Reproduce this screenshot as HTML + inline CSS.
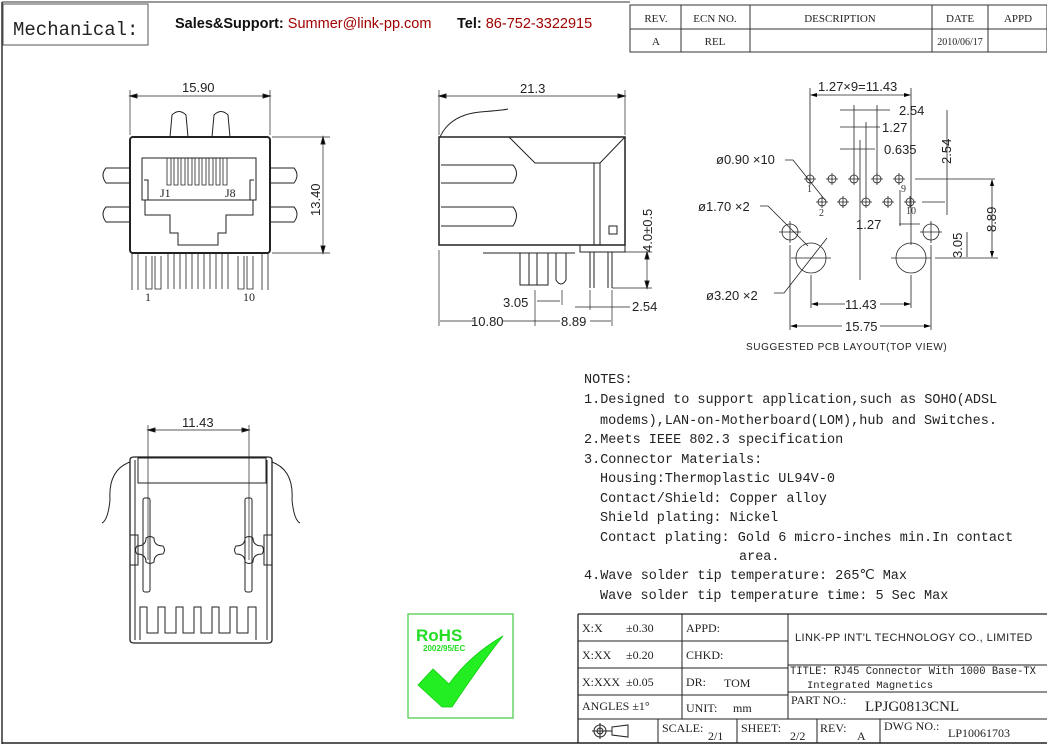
<!DOCTYPE html>
<html><head><meta charset="utf-8"><style>
html,body{margin:0;padding:0;background:#fff}
svg{display:block}
.m{font-family:"Liberation Mono",monospace}
.s{font-family:"Liberation Sans",sans-serif}
.sf{font-family:"Liberation Serif",serif}
</style></head><body>
<svg width="1047" height="746" viewBox="0 0 1047 746" xmlns="http://www.w3.org/2000/svg" fill="none" stroke="#000" stroke-width="1">
<line x1="2" y1="2" x2="630" y2="2" stroke="#333"/>
<line x1="2" y1="2" x2="2" y2="744" stroke="#333" stroke-width="1.5"/>
<line x1="2" y1="743" x2="1047" y2="743" stroke="#222" stroke-width="1.5"/>
<rect x="3" y="4" width="145" height="41" stroke="#555"/>
<text x="13" y="35" class="m" font-size="19" fill="#222" stroke="none">Mechanical:</text>
<text x="175" y="28" class="s" font-size="14.5" font-weight="bold" fill="#111" stroke="none">Sales&amp;Support: <tspan font-weight="normal" fill="#a00000">Summer@link-pp.com</tspan></text>
<text x="457" y="28" class="s" font-size="14.5" font-weight="bold" fill="#111" stroke="none">Tel: <tspan font-weight="normal" fill="#a00000">86-752-3322915</tspan></text>
<g stroke="#333">
<rect x="630" y="5" width="417" height="47"/>
<line x1="630" y1="29" x2="1047" y2="29"/>
<line x1="681" y1="5" x2="681" y2="52"/><line x1="750" y1="5" x2="750" y2="52"/>
<line x1="932" y1="5" x2="932" y2="52"/><line x1="988" y1="5" x2="988" y2="52"/>
</g>
<g class="sf" font-size="11" fill="#222" stroke="none" text-anchor="middle">
<text x="656" y="22">REV.</text><text x="715" y="22">ECN NO.</text><text x="840" y="22">DESCRIPTION</text><text x="960" y="22">DATE</text><text x="1018" y="22">APPD</text>
<text x="656" y="45">A</text><text x="715" y="45">REL</text><text x="960" y="45" font-size="10">2010/06/17</text>
</g>

<!-- FRONT VIEW -->
<g stroke="#222">
<line x1="130" y1="90" x2="130" y2="135" stroke-width="0.7"/><line x1="270" y1="90" x2="270" y2="135" stroke-width="0.7"/>
<line x1="131" y1="96" x2="269" y2="96" stroke-width="0.7"/>
<path d="M130 96 l7 -2 v4z M270 96 l-7 -2 v4z" fill="#000"/>
<line x1="272" y1="137" x2="330" y2="137" stroke-width="0.7"/><line x1="272" y1="253" x2="330" y2="253" stroke-width="0.7"/>
<line x1="323" y1="138" x2="323" y2="252" stroke-width="0.7"/>
<path d="M323 137 l-2 7 h4z M323 253 l-2 -7 h4z" fill="#000"/>
<rect x="130" y="137" width="140" height="116" rx="3" stroke-width="2"/>
<path d="M170 137 L172 115 Q179 108 186 115 L188 137 M212 137 L214 115 Q221 108 228 115 L230 137"/>
<path d="M130 168 L106 168 Q100 175 106 183 L130 183 M130 207 L106 207 Q100 214 106 222 L130 222"/>
<path d="M270 168 L294 168 Q300 175 294 183 L270 183 M270 207 L294 207 Q300 214 294 222 L270 222"/>
<path d="M142 200 V158 H256 V200 Z"/>
<path d="M145 200 V215 H170 V233 H178 V245 H218 V233 H226 V215 H253 V200"/>
<path d="M144 180 H148 V200 M254 180 H250 V200"/>
<g stroke-width="0.8">
<path d="M167 158 V185 H171 V158 M174 158 V185 H178 V158 M181 158 V185 H185 V158 M188 158 V185 H192 V158 M195 158 V185 H199 V158 M202 158 V185 H206 V158 M209 158 V185 H213 V158 M216 158 V185 H220 V158 M223 158 V185 H227 V158"/>
<path d="M132 253 V290 M138 253 V290 M268 253 V290 M262 253 V290 M146 256 V289 H152 V256 M155 256 V289 H161 V256 M238 256 V289 H244 V256 M247 256 V289 H253 V256 M168 253 V289 M174 253 V289 M180 253 V289 M186 253 V289 M192 253 V289 M198 253 V289 M204 253 V289 M210 253 V289 M216 253 V289 M222 253 V289 M228 253 V289"/>
</g>
</g>
<g class="s" font-size="13" fill="#222" stroke="none">
<text x="182" y="92">15.90</text>
<text transform="translate(320,216) rotate(-90)">13.40</text>
</g>
<g class="sf" font-size="12" fill="#222" stroke="none">
<text x="145" y="301">1</text><text x="243" y="301">10</text>
<text x="160" y="197">J1</text><text x="225" y="197">J8</text>
</g>

<!-- SIDE VIEW -->
<g stroke="#222">
<line x1="439" y1="90" x2="439" y2="135" stroke-width="0.7"/><line x1="625" y1="90" x2="625" y2="135" stroke-width="0.7"/>
<line x1="440" y1="96" x2="624" y2="96" stroke-width="0.7"/>
<path d="M439 96 l7 -2 v4z M625 96 l-7 -2 v4z" fill="#000"/>
<path d="M440 137 Q450 115 480 112 Q505 110 508 109"/>
<path d="M439 137 H625 V245 H439 Z" stroke-width="1.5"/>
<path d="M509 137 L535 163 H600 L625 137 M594 163 V245 M600 163 V245"/>
<path d="M441 165 H513 Q520 173 513 183 H441 M441 207 H513 Q520 215 513 226 H441"/>
<rect x="609" y="226" width="8" height="8"/>
<path d="M580 245 V252 H625 V245"/>
<path d="M590 252 V288 M594 252 V288 M608 252 V288 M612 252 V288"/>
<path d="M520 253 V285 H548 V253 M529 253 V285 M537 253 V285 M556 253 V280 Q561 288 566 280 V253 M483 253 H575"/>
<line x1="610" y1="252" x2="652" y2="252" stroke-width="0.7"/><line x1="612" y1="288" x2="652" y2="288" stroke-width="0.7"/>
<line x1="647" y1="253" x2="647" y2="287" stroke-width="0.7"/>
<path d="M647 252 l-2 7 h4z M647 288 l-2 -7 h4z" fill="#000"/>
<g stroke-width="0.7">
<line x1="535" y1="290" x2="535" y2="326"/><line x1="562" y1="290" x2="562" y2="305"/>
<line x1="537" y1="301" x2="560" y2="301"/>
<line x1="590" y1="290" x2="590" y2="310"/><line x1="612" y1="290" x2="612" y2="326"/>
<line x1="575" y1="307" x2="630" y2="307"/>
<line x1="439" y1="250" x2="439" y2="326"/>
<line x1="440" y1="321" x2="475" y2="321"/><line x1="502" y1="321" x2="560" y2="321"/><line x1="590" y1="321" x2="611" y2="321"/>
</g>
</g>
<g class="s" font-size="13" fill="#222" stroke="none">
<text x="520" y="93">21.3</text>
<text transform="translate(652,252) rotate(-90)">4.0±0.5</text>
<text x="503" y="307">3.05</text><text x="632" y="311">2.54</text>
<text x="471" y="326">10.80</text><text x="561" y="326">8.89</text>
</g>

<!-- PCB -->
<g stroke="#222" stroke-width="0.8">
<line x1="810" y1="88" x2="810" y2="175"/><line x1="911" y1="88" x2="911" y2="245"/>
<line x1="811" y1="95" x2="910" y2="95"/>
<line x1="840" y1="110" x2="890" y2="110"/><line x1="854" y1="105" x2="854" y2="175"/><line x1="877" y1="105" x2="877" y2="175"/>
<line x1="840" y1="127" x2="880" y2="127"/><line x1="866" y1="122" x2="866" y2="198"/>
<line x1="840" y1="149" x2="875" y2="149"/><line x1="860" y1="140" x2="860" y2="280"/>
<line x1="915" y1="179" x2="995" y2="179"/><line x1="922" y1="202" x2="945" y2="202"/>
<line x1="947" y1="110" x2="947" y2="215"/>
<line x1="992" y1="180" x2="992" y2="257"/>
<line x1="935" y1="258" x2="998" y2="258"/>
<line x1="967" y1="232" x2="967" y2="257"/>
<line x1="899" y1="224" x2="920" y2="224"/><line x1="900" y1="190" x2="900" y2="226"/>
<line x1="790" y1="245" x2="790" y2="330"/><line x1="931" y1="245" x2="931" y2="330"/>
<line x1="811" y1="275" x2="811" y2="308"/><line x1="911" y1="275" x2="911" y2="308"/>
<line x1="812" y1="304" x2="845" y2="304"/><line x1="880" y1="304" x2="910" y2="304"/>
<line x1="791" y1="326" x2="842" y2="326"/><line x1="880" y1="326" x2="930" y2="326"/>
<path d="M785 160 L793 160 L825 200 M760 206 L768 206 L808 246 M774 293 L784 293 L827 238"/>
<circle cx="810" cy="179" r="4"/><circle cx="832" cy="179" r="4"/><circle cx="854" cy="179" r="4"/><circle cx="877" cy="179" r="4"/><circle cx="899" cy="179" r="4"/>
<circle cx="822" cy="202" r="4"/><circle cx="843" cy="202" r="4"/><circle cx="866" cy="202" r="4"/><circle cx="888" cy="202" r="4"/><circle cx="910" cy="202" r="4"/>
<path d="M804 179h12M810 173v12M826 179h12M832 173v12M848 179h12M854 173v12M871 179h12M877 173v12M893 179h12M899 173v12M816 202h12M822 196v12M837 202h12M843 196v12M860 202h12M866 196v12M882 202h12M888 196v12M904 202h12M910 196v12"/>
<circle cx="790" cy="232" r="8"/><circle cx="931" cy="232" r="8"/>
<path d="M779 232h22M790 221v22M920 232h22M931 221v22"/>
<circle cx="811" cy="258" r="15"/><circle cx="911" cy="258" r="15"/>
<path d="M791 258h40M891 258h40"/>
</g>
<g fill="#000" stroke="none"><path d="M810 95l7-2v4zM911 95l-7-2v4zM811 304l7-2v4zM911 304l-7-2v4zM790 326l7-2v4zM931 326l-7-2v4zM992 179l-2 7h4zM992 258l-2-7h4z"/></g>
<g class="s" font-size="13" fill="#222" stroke="none">
<text x="818" y="91">1.27×9=11.43</text>
<text x="899" y="115">2.54</text><text x="882" y="132">1.27</text><text x="884" y="154">0.635</text>
<text x="716" y="164">ø0.90 ×10</text><text x="698" y="211">ø1.70 ×2</text><text x="706" y="300">ø3.20 ×2</text>
<text x="856" y="229">1.27</text>
<text x="845" y="309">11.43</text><text x="845" y="331">15.75</text>
<text transform="translate(951,164) rotate(-90)">2.54</text>
<text transform="translate(996,232) rotate(-90)">8.89</text>
<text transform="translate(962,258) rotate(-90)">3.05</text>
<text x="746" y="350" font-size="10" letter-spacing="0.6">SUGGESTED PCB LAYOUT(TOP VIEW)</text>
</g>
<g class="sf" font-size="10" fill="#333" stroke="none">
<text x="807" y="192">1</text><text x="901" y="192">9</text><text x="819" y="216">2</text><text x="906" y="214">10</text>
</g>

<!-- BOTTOM VIEW -->
<g stroke="#222">
<line x1="148" y1="425" x2="148" y2="560" stroke-width="0.7"/><line x1="249" y1="425" x2="249" y2="560" stroke-width="0.7"/>
<line x1="149" y1="430" x2="248" y2="430" stroke-width="0.7"/>
<path d="M148 430l7-2v4zM249 430l-7-2v4z" fill="#000"/>
<path d="M130 460 Q130 457 134 457 H268 Q272 457 272 460 V640 Q272 643 268 643 H134 Q130 643 130 640 Z" stroke-width="1.3"/>
<path d="M135 460 V640 M267 460 V640"/>
<rect x="138" y="458" width="128" height="25"/>
<path d="M130 462 Q108 470 110 500 Q108 520 102 523 M272 462 Q294 470 292 500 Q294 520 300 523"/>
<rect x="143" y="498" width="7" height="94" rx="2"/><rect x="245" y="498" width="7" height="94" rx="2"/>
<path d="M146 538 Q146 546 137 546 Q134 550 137 554 Q146 554 146 562 Q150 565 154 562 Q154 554 163 554 Q166 550 163 546 Q154 546 154 538 Q150 535 146 538Z"/>
<path d="M245 538 Q245 546 236 546 Q233 550 236 554 Q245 554 245 562 Q249 565 253 562 Q253 554 262 554 Q265 550 262 546 Q253 546 253 538 Q249 535 245 538Z"/>
<path d="M130 535 H138 V565 H130 M272 535 H264 V565 H272"/>
<path d="M140 640 V607 H147 V633 H158 V607 H165 V633 H176 V607 H183 V633 H194 V607 H201 V633 H212 V607 H219 V633 H230 V607 H237 V633 H248 V607 H256 V640"/>
</g>
<text x="182" y="427" class="s" font-size="13" fill="#222" stroke="none">11.43</text>

<!-- NOTES -->
<g class="m" font-size="13.5" fill="#222" stroke="none">
<text x="584" y="383">NOTES:</text>
<text x="584" y="403">1.Designed to support application,such as SOHO(ADSL</text>
<text x="600" y="424">modems),LAN-on-Motherboard(LOM),hub and Switches.</text>
<text x="584" y="443">2.Meets IEEE 802.3 specification</text>
<text x="584" y="463">3.Connector Materials:</text>
<text x="600" y="482">Housing:Thermoplastic UL94V-0</text>
<text x="600" y="502">Contact/Shield: Copper alloy</text>
<text x="600" y="521">Shield plating: Nickel</text>
<text x="600" y="541">Contact plating: Gold 6 micro-inches min.In contact</text>
<text x="739" y="560">area.</text>
<text x="584" y="579">4.Wave solder tip temperature: 265℃ Max</text>
<text x="600" y="599">Wave solder tip temperature time: 5 Sec Max</text>
</g>

<!-- RoHS -->
<rect x="408" y="614" width="105" height="104" stroke="#4c4" stroke-width="1.2"/>
<text x="416" y="641" class="s" font-size="17" font-weight="bold" fill="#2d2" stroke="none">RoHS</text>
<text x="423" y="651" class="s" font-size="8" font-weight="bold" fill="#2d2" stroke="none">2002/95/EC</text>
<path d="M418 685 L433 669 L449 684 Q470 655 503 636 Q480 665 452 707 L442 707 Z" fill="#2e2" stroke="#1c1" stroke-width="0.8"/>

<!-- title block -->
<g stroke="#222">
<line x1="578" y1="614" x2="1047" y2="614" stroke-width="1.3"/>
<line x1="578" y1="614" x2="578" y2="743" stroke-width="1.3"/>
<line x1="578" y1="641" x2="788" y2="641"/><line x1="578" y1="668" x2="788" y2="668"/><line x1="788" y1="665" x2="1047" y2="665"/>
<line x1="578" y1="695" x2="788" y2="695"/><line x1="788" y1="692" x2="1047" y2="692"/>
<line x1="578" y1="719" x2="1047" y2="719"/>
<line x1="682" y1="614" x2="682" y2="719"/><line x1="788" y1="614" x2="788" y2="719"/>
<line x1="658" y1="719" x2="658" y2="743"/><line x1="737" y1="719" x2="737" y2="743"/>
<line x1="817" y1="719" x2="817" y2="743"/><line x1="880" y1="719" x2="880" y2="743"/>
<circle cx="600" cy="731" r="6"/><circle cx="600" cy="731" r="3"/>
<path d="M592 731h16M600 723v16M612 727 L628 725 V737 L612 735 Z M608 731h4"/>
</g>
<g class="sf" font-size="12" fill="#222" stroke="none">
<text x="582" y="632">X:X</text><text x="626" y="632">±0.30</text>
<text x="582" y="659">X:XX</text><text x="626" y="659">±0.20</text>
<text x="582" y="686">X:XXX</text><text x="626" y="686">±0.05</text>
<text x="582" y="710">ANGLES ±1°</text>
<text x="686" y="632">APPD:</text><text x="686" y="659">CHKD:</text>
<text x="686" y="686">DR:</text><text x="724" y="687">TOM</text>
<text x="686" y="712">UNIT:</text><text x="733" y="712">mm</text>
<text x="662" y="732">SCALE:</text><text x="708" y="740">2/1</text>
<text x="741" y="732">SHEET:</text><text x="790" y="740">2/2</text>
<text x="820" y="732">REV:</text><text x="857" y="740">A</text>
<text x="884" y="730">DWG NO.:</text><text x="948" y="737">LP10061703</text>
<text x="791" y="704">PART NO.:</text>
<text x="865" y="711" font-size="15">LPJG0813CNL</text>
</g>
<text x="795" y="641" class="s" font-size="11" letter-spacing="0.4" fill="#222" stroke="none">LINK-PP INT'L TECHNOLOGY CO., LIMITED</text>
<g class="m" font-size="11" fill="#222" stroke="none">
<text x="790" y="674" textLength="246" lengthAdjust="spacingAndGlyphs">TITLE: RJ45 Connector With 1000 Base-TX</text>
<text x="807" y="688" font-size="10.5">Integrated Magnetics</text>
</g>
</svg>
</body></html>
